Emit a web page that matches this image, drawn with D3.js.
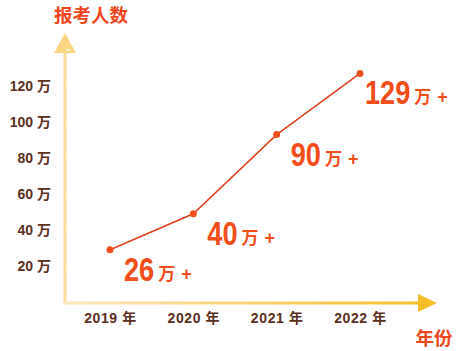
<!DOCTYPE html>
<html>

<head>
	<meta charset="utf-8">
	<title>报考人数</title>
	<script src="https://cdn.jsdelivr.net/npm/d3@7/dist/d3.min.js"></script>
</head>

<style>
	body {
		margin: 0;
		background: #fff;
	}

	text {
		font-family: "Liberation Sans", "Noto Sans CJK SC", sans-serif;
	}

	.cn {
		font-family: "Noto Sans CJK SC", sans-serif;
	}
</style>

<body>
	<svg width="474" height="351"></svg>

	<script>
		var width = 474,
			height = 351

		// data
		var years = [2019, 2020, 2021, 2022]
		var plotted = [29, 49, 93, 127]       // where the points sit
		var labels = ['26', '40', '90', '129'] // what the annotations say
		var yTicks = [20, 40, 60, 80, 100, 120]

		var x0 = 65,
			y0 = 303

		var x = d3.scalePoint()
			.domain(years)
			.range([110, 360])

		var y = d3.scaleLinear()
			.domain([0, 120])
			.range([302, 86])

		var svg = d3.select('svg')

		var defs = svg.append('defs')
		var grad = defs.append('linearGradient')
			.attr('id', 'xgrad')
			.attr('x1', '0%').attr('x2', '100%')
		grad.append('stop').attr('offset', '0%').attr('stop-color', '#fde8c0')
		grad.append('stop').attr('offset', '100%').attr('stop-color', '#f7c02e')

		// y axis arrow
		svg.append('line')
			.attr('x1', x0).attr('x2', x0)
			.attr('y1', y0).attr('y2', 50)
			.attr('stroke', '#fcdc98')
			.attr('stroke-width', 3)
		svg.append('path')
			.attr('d', 'M' + x0 + ',33 L' + (x0 - 11) + ',53 L' + (x0 + 11) + ',53 Z')
			.attr('fill', '#fdd684')

		// x axis arrow
		svg.append('rect')
			.attr('x', x0 - 1.5).attr('y', y0 - 1.5)
			.attr('width', 420 - x0).attr('height', 3)
			.attr('fill', 'url(#xgrad)')
		svg.append('path')
			.attr('d', 'M437,' + y0 + ' L418,' + (y0 - 9) + ' L418,' + (y0 + 9) + ' Z')
			.attr('fill', '#f6bf2a')

		// y tick labels
		var yAxis = svg.append('g')
			.attr('transform', 'translate(' + x0 + ',0)')
			.call(d3.axisLeft(y).tickValues(yTicks).tickSize(0).tickPadding(14)
				.tickFormat(function(d) {
					return d + ' 万'
				}))
		yAxis.select('.domain').remove()
		yAxis.selectAll('text')
			.attr('fill', '#5b2f1c')
			.attr('font-size', 14)
			.attr('font-weight', 'bold')

		// faint tick marks on the axis
		svg.selectAll('.ymark')
			.data(yTicks.concat([140]))
			.enter()
			.append('line')
			.attr('class', 'ymark')
			.attr('x1', x0 + 1).attr('x2', x0 + 5)
			.attr('y1', function(d) {
				return y(d)
			})
			.attr('y2', function(d) {
				return y(d)
			})
			.attr('stroke', '#fff4dc')
			.attr('stroke-width', 2)

		// x tick labels
		var xAxis = svg.append('g')
			.attr('transform', 'translate(0,' + y0 + ')')
			.call(d3.axisBottom(x).tickSize(0).tickPadding(10)
				.tickFormat(function(d) {
					return d + ' 年'
				}))
		xAxis.select('.domain').remove()
		xAxis.selectAll('text')
			.attr('fill', '#5b2f1c')
			.attr('font-size', 14)
			.attr('font-weight', 'bold')
			.attr('letter-spacing', 0.6)

		// axis titles
		svg.append('text')
			.attr('class', 'cn')
			.attr('x', 91).attr('y', 22)
			.attr('text-anchor', 'middle')
			.attr('font-size', 18.5)
			.attr('font-weight', 'bold')
			.attr('fill', '#f0461c')
			.text('报考人数')

		svg.append('text')
			.attr('class', 'cn')
			.attr('x', 434).attr('y', 345)
			.attr('text-anchor', 'middle')
			.attr('font-size', 18.5)
			.attr('font-weight', 'bold')
			.attr('fill', '#f0461c')
			.text('年份')

		// line and points
		var pts = years.map(function(d, i) {
			return [x(d), y(plotted[i])]
		})

		svg.append('path')
			.attr('d', d3.line()(pts))
			.attr('fill', 'none')
			.attr('stroke', '#e2401e')
			.attr('stroke-width', 1.5)

		svg.selectAll('.dot')
			.data(pts)
			.enter()
			.append('circle')
			.attr('class', 'dot')
			.attr('cx', function(d) {
				return d[0]
			})
			.attr('cy', function(d) {
				return d[1]
			})
			.attr('r', 3.5)
			.attr('fill', '#f0501e')

		// value annotations: condensed big number, then "万 +"
		var ann = svg.selectAll('.ann')
			.data(pts)
			.enter()
			.append('g')
			.attr('class', 'ann')
			.attr('transform', function(d, i) {
				return 'translate(' + (d[0] + (i === 3 ? 5 : 14)) + ',' + (d[1] + 31) + ')'
			})

		ann.append('text')
			.attr('transform', 'scale(0.8,1)')
			.attr('font-size', 34)
			.attr('font-weight', 900)
			.attr('fill', '#f24d1a')
			.text(function(d, i) {
				return labels[i]
			})
			.each(function() {
				var w = this.getBBox().width * 0.8
				var g = d3.select(this.parentNode)
				g.append('text')
					.attr('class', 'cn')
					.attr('x', w + 4)
					.attr('y', -1)
					.attr('font-size', 17)
					.attr('font-weight', 'bold')
					.attr('fill', '#f24d1a')
					.text('万')
				g.append('text')
					.attr('x', w + 27)
					.attr('y', -1)
					.attr('font-size', 18)
					.attr('font-weight', 'bold')
					.attr('fill', '#f24d1a')
					.text('+')
			})
	</script>
</body>

</html>
